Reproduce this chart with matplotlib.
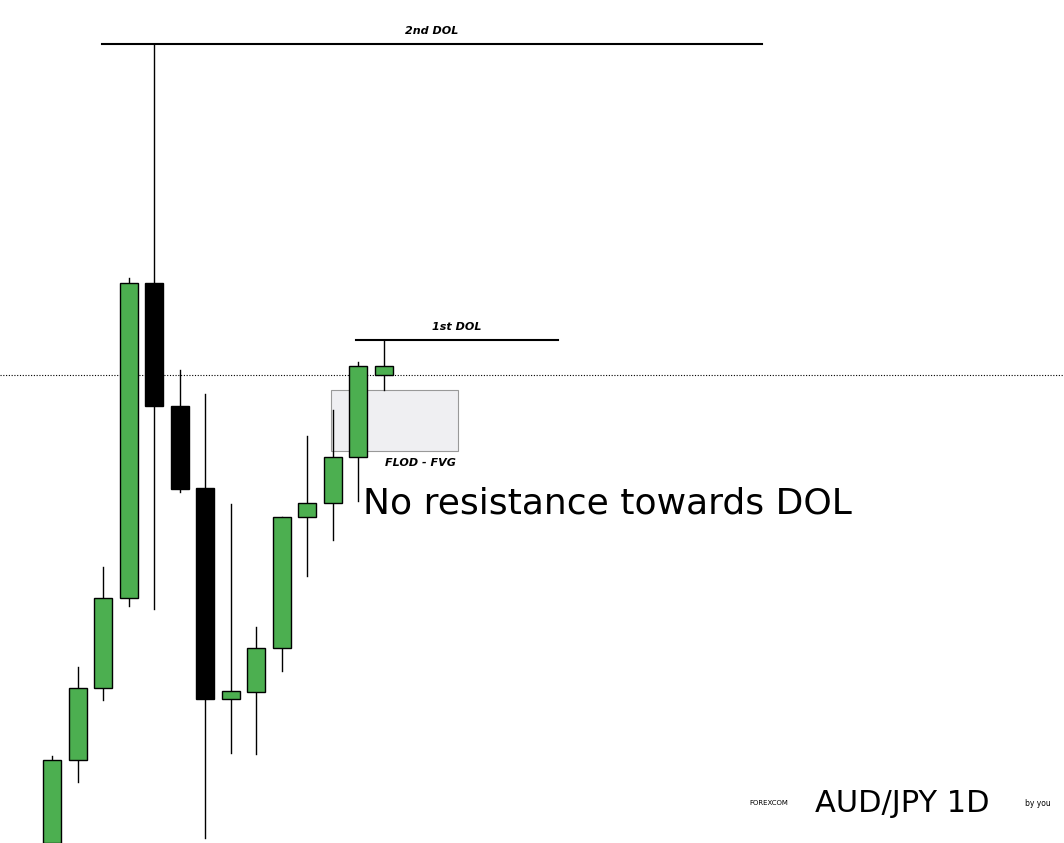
import matplotlib
matplotlib.use("Agg")
import matplotlib.pyplot as plt
from matplotlib.patches import Rectangle

# candle data (chart units, axis inverted so smaller = higher price)
opens  = [843, 760, 688, 598, 283, 406, 488, 699, 692, 648, 517, 503, 457, 375]
closes = [760, 688, 598, 283, 406, 489, 699, 691, 648, 517, 503, 457, 366, 366]
highs  = [756, 667, 567, 278, 44, 370, 394, 504, 627, 517, 436, 410, 362, 340]
lows   = [850, 782, 700, 606, 609, 492, 838, 753, 754, 671, 576, 540, 501, 390]
x0, step, w = 52, 25.5, 18

fig = plt.figure(figsize=(10.64, 8.43), dpi=100)
ax = fig.add_axes([0, 0, 1, 1])
ax.set_xlim(0, 1064)
ax.set_ylim(843, 0)
ax.axis("off")

for i, (o, c, h, l) in enumerate(zip(opens, closes, highs, lows)):
    x = x0 + i * step
    col = "#4caf50" if c < o else "#000000"
    ax.plot([x, x], [h, l], color="black", lw=1, zorder=2)
    ax.add_patch(Rectangle((x - w / 2, min(o, c)), w, max(abs(o - c), 2),
                           facecolor=col, edgecolor="black", lw=1, zorder=3))

ax.axhline(375, color="black", lw=0.8, ls=(0, (1, 1.5)), zorder=1)
ax.plot([102, 762], [44, 44], color="black", lw=1.5)
ax.text(432, 36, "2nd DOL", ha="center", va="bottom", fontsize=8, style="italic", fontweight="bold")
ax.plot([356, 558], [340, 340], color="black", lw=1.5)
ax.text(457, 332, "1st DOL", ha="center", va="bottom", fontsize=8, style="italic", fontweight="bold")
ax.add_patch(Rectangle((331, 390), 127, 61, facecolor="#efeff2", edgecolor="#999999", lw=0.8, zorder=1))
ax.text(420, 463, "FLOD - FVG", ha="center", va="center", fontsize=8, style="italic", fontweight="bold")
ax.text(363, 503, "No resistance towards DOL", ha="left", va="center", fontsize=26)
ax.text(749, 803, "FOREXCOM", ha="left", va="center", fontsize=5)
ax.text(815, 803, "AUD/JPY 1D", ha="left", va="center", fontsize=22)
ax.text(1025, 803, "by you", ha="left", va="center", fontsize=5.5)

fig.savefig("out.png", dpi=100, facecolor="white")
